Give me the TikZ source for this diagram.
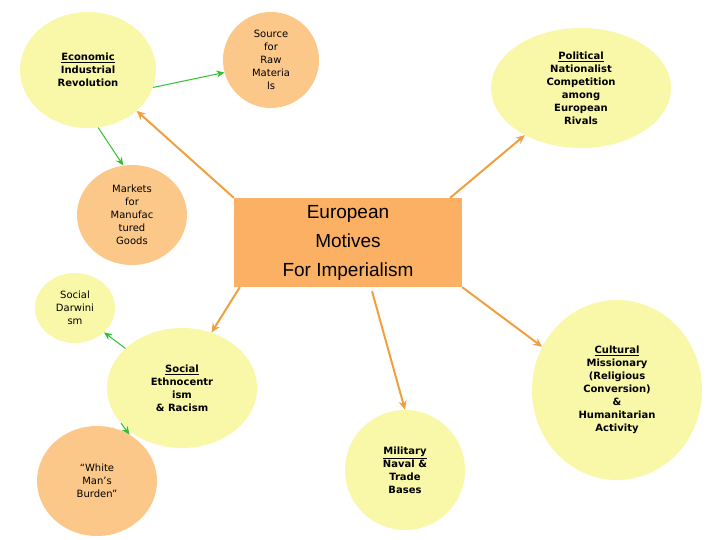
\documentclass[tikz,border=0pt]{standalone}
\usepackage{fontspec}
\setmainfont{DejaVu Sans}
\newfontfamily\lib{Liberation Sans}
\usetikzlibrary{shapes.geometric,arrows.meta}
\definecolor{yel}{HTML}{F8F8A8}
\definecolor{ora}{HTML}{FCC88A}
\definecolor{cen}{HTML}{FBB064}
\definecolor{arr}{HTML}{F0A040}
\definecolor{grn}{HTML}{30C030}
\tikzset{
 yb/.style={ellipse,fill=yel,inner sep=0pt,align=center,font=\bfseries\fontsize{10}{13}\selectfont},
 ob/.style={ellipse,fill=ora,inner sep=0pt,align=center,font=\fontsize{10}{13}\selectfont},
 oarr/.style={draw=arr,line width=2pt,-{Stealth[length=9pt,width=8pt]}},
 garr/.style={draw=grn,line width=1pt,-{Stealth[length=8pt,width=7pt]}}
}
\begin{document}
\begin{tikzpicture}[x=1pt,y=-1pt]
\useasboundingbox[fill=white] (0,0) rectangle (720,540);
\node[yb,minimum width=136,minimum height=116] (eco) at (88,70) {\underline{Economic}\\Industrial\\Revolution};
\node[ob,minimum width=96,minimum height=96] (src) at (271,60) {Source\\for\\Raw\\Materia\\ls};
\node[yb,minimum width=180,minimum height=120] (pol) at (581,88) {\underline{Political}\\Nationalist\\Competition\\among\\European\\Rivals};
\node[ob,minimum width=110,minimum height=100] (mkt) at (132,215) {Markets\\for\\Manufac\\tured\\Goods};
\node[fill=cen,minimum width=228,minimum height=89,align=center,font=\lib\fontsize{19}{29}\selectfont] (cen) at (348,242.5) {European\\Motives\\For Imperialism};
\node[ob,fill=yel,minimum width=80,minimum height=70] (dar) at (75,308) {Social\\Darwini\\sm};
\node[yb,minimum width=150,minimum height=120] (eth) at (182,388) {\underline{Social}\\Ethnocentr\\ism\\\& Racism};
\node[ob,minimum width=120,minimum height=110] (wmb) at (97,481) {“White\\Man’s\\Burden”};
\node[yb,minimum width=120,minimum height=120] (mil) at (405,470) {\underline{Military}\\Naval \&\\Trade\\Bases};
\node[yb,minimum width=170,minimum height=180] (cul) at (617,390) {\underline{Cultural}\\Missionary\\(Religious\\Conversion)\\\&\\Humanitarian\\Activity};
\draw[garr] (eco.-15) -- (src.195);
\draw[garr] (eco.-80) -- (mkt.100);
\draw[garr] (eth.145) -- (dar.-40);
\draw[garr] (eth.-150) -- (wmb.55);
\draw[oarr] (cen.north west) -- (eco.-40);
\draw[oarr] (cen.north east) ++(-12,0) coordinate (c1) (c1) -- (pol.-140);
\draw[oarr] (cen.south west) ++(6,0) coordinate (c2) (c2) -- (eth.62);
\draw[oarr] (cen.south) ++(24,4) coordinate (c3) (c3) -- (mil.north);
\draw[oarr] (cen.south east) -- (cul.150);
\end{tikzpicture}
\end{document}
